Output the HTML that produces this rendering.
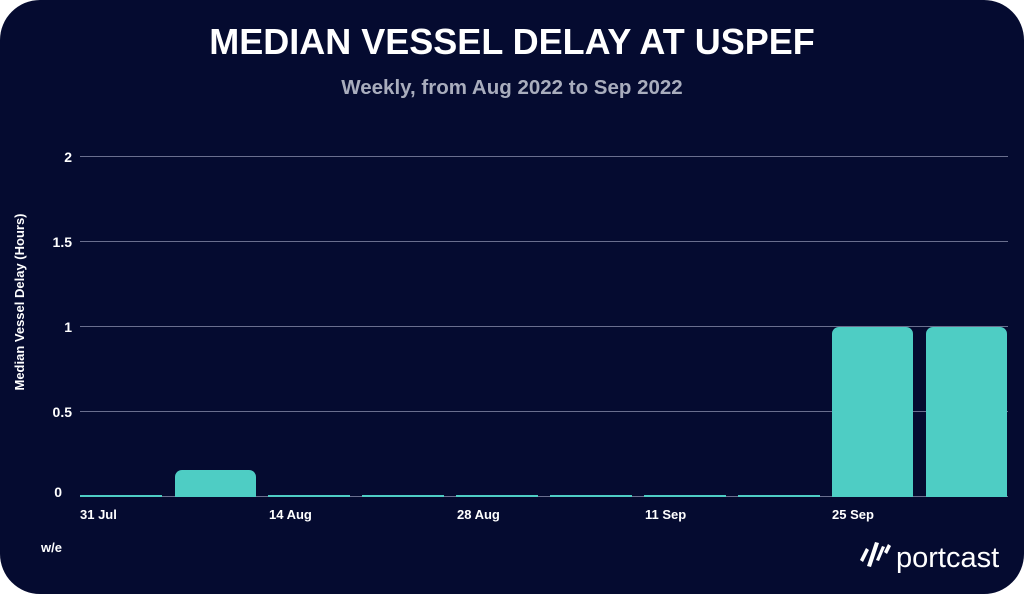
<!DOCTYPE html>
<html><head><style>
body{margin:0;background:#fff;width:1024px;height:594px;overflow:hidden;font-family:"Liberation Sans",sans-serif}
.card{position:absolute;left:0;top:0;width:1024px;height:594px;background:#050b30;border-radius:40px}
.t{position:absolute;left:0;width:1024px;text-align:center;font-weight:bold}
</style></head><body><div class="card">
<div class="t" style="top:21px;font-size:36px;color:#fff">MEDIAN VESSEL DELAY AT USPEF</div>
<div class="t" style="top:76px;font-size:20.5px;color:#a9adbd">Weekly, from Aug 2022 to Sep 2022</div>
<svg width="1024" height="594" style="position:absolute;left:0;top:0" font-family="Liberation Sans, sans-serif" font-weight="bold">
<g stroke="#6a6f8e" stroke-width="1">
<line x1="80" x2="1008" y1="156.5" y2="156.5"/><line x1="80" x2="1008" y1="241.5" y2="241.5"/>
<line x1="80" x2="1008" y1="326.5" y2="326.5"/><line x1="80" x2="1008" y1="411.5" y2="411.5"/>
<line x1="80" x2="1008" y1="496.5" y2="496.5"/></g>
<g fill="#fff" font-size="14" text-anchor="end">
<text x="72" y="162">2</text><text x="72" y="247">1.5</text><text x="72" y="332">1</text><text x="72" y="417">0.5</text><text x="62" y="497">0</text></g>
<g fill="#4ecdc4">
<rect x="80" y="495" width="82" height="2"/><rect x="268" y="495" width="82" height="2"/><rect x="362" y="495" width="82" height="2"/><rect x="456" y="495" width="82" height="2"/><rect x="550" y="495" width="82" height="2"/><rect x="644" y="495" width="82" height="2"/><rect x="738" y="495" width="82" height="2"/>
<path d="M175 497V477a7 7 0 0 1 7-7h67a7 7 0 0 1 7 7V497Z"/>
<path d="M832 497V334a7 7 0 0 1 7-7h67a7 7 0 0 1 7 7V497Z"/>
<path d="M926 497V334a7 7 0 0 1 7-7h67a7 7 0 0 1 7 7V497Z"/>
</g>
<g fill="#fff" font-size="13">
<text x="80" y="519">31 Jul</text><text x="269" y="519">14 Aug</text><text x="457" y="519">28 Aug</text><text x="645" y="519">11 Sep</text><text x="832" y="519">25 Sep</text>
<text x="41" y="552">w/e</text>
<text transform="translate(24,302) rotate(-90)" text-anchor="middle">Median Vessel Delay (Hours)</text>
</g>
<g fill="#fff"><path d="M860 560l6-12 3 2-6 12z"/><path d="M867 566l8-24 4 1-8 24z"/><path d="M876 560l6-14 3 1-6 14z"/><path d="M884 552l4-8 3 2-4 8z"/></g>
<text x="896" y="567" fill="#fff" font-size="29" font-weight="normal">portcast</text>
</svg></div></body></html>
